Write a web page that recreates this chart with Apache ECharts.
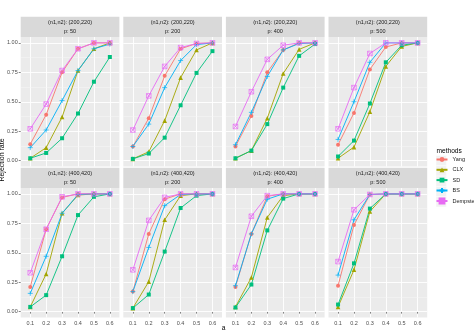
<!DOCTYPE html>
<html><head><meta charset="utf-8">
<script src="https://cdn.jsdelivr.net/npm/echarts@6/dist/echarts.min.js"></script>
<style>html,body{margin:0;padding:0;background:#fff}#c{width:474px;height:330px}</style>
</head><body><div id="c"></div>
<script>
// ---- data ----
const aValues = [0.1, 0.2, 0.3, 0.4, 0.5, 0.6];
const yTicks = [0, 0.25, 0.5, 0.75, 1];
const yMinorTicks = [0.125, 0.375, 0.625, 0.875];
const methods = ['Yang', 'CLX', 'SD', 'BS', 'Dempster'];
const sizeLabels = ['(n1,n2): (200,220)', '(n1,n2): (400,420)'];
const pLabels = ['p: 50', 'p: 200', 'p: 400', 'p: 500'];

// each array: one row per p (50, 200, 400, 500), values at a = 0.1..0.6
const Yang_200 = [
  [0.14, 0.39, 0.75, 0.95, 1.0, 1.0],
  [0.12, 0.36, 0.72, 0.95, 0.995, 1.0],
  [0.12, 0.38, 0.75, 0.94, 1.0, 1.0],
  [0.135, 0.405, 0.775, 0.965, 1.0, 1.0]];
const CLX_200 = [
  [0.02, 0.11, 0.37, 0.765, 0.95, 1.0],
  [0.015, 0.075, 0.34, 0.705, 0.94, 1.0],
  [0.02, 0.085, 0.36, 0.74, 0.945, 1.0],
  [0.02, 0.115, 0.415, 0.80, 0.97, 1.0]];
const SD_200 = [
  [0.02, 0.065, 0.19, 0.40, 0.67, 0.88],
  [0.015, 0.06, 0.195, 0.47, 0.745, 0.93],
  [0.02, 0.085, 0.31, 0.62, 0.89, 0.99],
  [0.035, 0.17, 0.485, 0.835, 0.98, 1.0]];
const BS_200 = [
  [0.11, 0.26, 0.51, 0.765, 0.95, 0.99],
  [0.12, 0.31, 0.62, 0.85, 0.985, 1.0],
  [0.135, 0.41, 0.715, 0.94, 0.995, 1.0],
  [0.18, 0.50, 0.835, 1.0, 1.0, 1.0]];
const Dempster_200 = [
  [0.27, 0.48, 0.765, 0.95, 1.0, 1.0],
  [0.26, 0.55, 0.80, 0.96, 0.995, 1.0],
  [0.29, 0.585, 0.86, 0.98, 1.0, 1.0],
  [0.27, 0.62, 0.91, 1.0, 1.0, 1.0]];

const Yang_400 = [
  [0.21, 0.70, 0.97, 1.0, 1.0, 1.0],
  [0.17, 0.66, 0.955, 1.0, 1.0, 1.0],
  [0.21, 0.66, 0.98, 1.0, 1.0, 1.0],
  [0.22, 0.735, 0.995, 1.0, 1.0, 1.0]];
const CLX_400 = [
  [0.04, 0.32, 0.835, 0.99, 1.0, 1.0],
  [0.03, 0.255, 0.78, 0.985, 1.0, 1.0],
  [0.04, 0.29, 0.80, 0.985, 1.0, 1.0],
  [0.04, 0.355, 0.85, 1.0, 1.0, 1.0]];
const SD_400 = [
  [0.04, 0.14, 0.47, 0.82, 0.975, 1.0],
  [0.03, 0.145, 0.51, 0.88, 0.985, 1.0],
  [0.035, 0.23, 0.69, 0.96, 1.0, 1.0],
  [0.06, 0.41, 0.875, 1.0, 1.0, 1.0]];
const BS_400 = [
  [0.155, 0.47, 0.835, 0.995, 1.0, 1.0],
  [0.17, 0.545, 0.90, 0.995, 1.0, 1.0],
  [0.22, 0.66, 0.955, 1.0, 1.0, 1.0],
  [0.31, 0.78, 0.995, 1.0, 1.0, 1.0]];
const Dempster_400 = [
  [0.33, 0.70, 0.975, 1.0, 1.0, 1.0],
  [0.355, 0.775, 0.97, 1.0, 1.0, 1.0],
  [0.375, 0.81, 0.985, 1.0, 1.0, 1.0],
  [0.425, 0.865, 0.995, 1.0, 1.0, 1.0]];

const rowsData = [
  { Yang: Yang_200, CLX: CLX_200, SD: SD_200, BS: BS_200, Dempster: Dempster_200 },
  { Yang: Yang_400, CLX: CLX_400, SD: SD_400, BS: BS_400, Dempster: Dempster_400 }];

// ---- styling ----
const FONT = '"Liberation Sans", Arial, sans-serif';
const colors = { Yang: '#F8766D', CLX: '#A3A500', SD: '#00BF7D', BS: '#00B0F6', Dempster: '#E76BF3' };
const symbols = {
  Yang: { symbol: 'circle', size: 4, hollow: false },
  CLX: { symbol: 'triangle', size: 4.6, hollow: false },
  SD: { symbol: 'rect', size: 4, hollow: false },
  BS: { symbol: 'path://M5,0V10M0,5H10', size: 5, hollow: true },
  Dempster: { symbol: 'path://M0,0H10V10H0ZM0,0L10,10M10,0L0,10', size: 4.6, hollow: true }
};

const L0 = 20.7, PW = 98.7, PSTEP = 102.6, PH = 129.5, SH = 20.3;
const TOPS = [37, 188];

const grids = [], xAxes = [], yAxes = [], series = [], graphics = [];
let gi = 0;
for (let r = 0; r < 2; r++) {
  for (let c = 0; c < 4; c++) {
    const left = L0 + c * PSTEP, top = TOPS[r];
    grids.push({ left: left, top: top, width: PW, height: PH, show: true,
      backgroundColor: '#EBEBEB', borderWidth: 0, containLabel: false });
    xAxes.push({
      type: 'value', gridIndex: gi, min: 0.04, max: 0.66,
      axisLine: { show: false },
      axisTick: { show: r === 1, length: 2, lineStyle: { color: '#333333', width: 0.6 }, customValues: aValues },
      axisLabel: { show: r === 1, customValues: aValues, margin: 3, fontSize: 5.5, color: '#4D4D4D', fontFamily: FONT,
        formatter: v => (+v).toFixed(1) },
      splitLine: { show: true, lineStyle: { color: '#FFFFFF', width: 0.9 } }
    });
    yAxes.push({
      type: 'value', gridIndex: gi, min: -0.05, max: 1.05, z: 2,
      axisLine: { show: false },
      axisTick: { show: c === 0, length: 2, lineStyle: { color: '#333333', width: 0.6 }, customValues: yTicks },
      axisLabel: { show: c === 0, customValues: yTicks, margin: 3, fontSize: 5.5, color: '#4D4D4D', fontFamily: FONT,
        formatter: v => (+v).toFixed(2) },
      splitLine: { show: true, lineStyle: { color: '#FFFFFF', width: 0.9 } }
    });
    yAxes.push({
      type: 'value', gridIndex: gi, min: -0.05, max: 1.05, z: 1,
      axisLine: { show: false },
      axisTick: { show: false, customValues: yMinorTicks },
      axisLabel: { show: false, customValues: yMinorTicks },
      splitLine: { show: true, lineStyle: { color: '#F7F7F7', width: 0.5 } }
    });
    // strip
    graphics.push({ type: 'rect', shape: { x: left, y: top - SH, width: PW, height: SH }, style: { fill: '#D9D9D9' }, silent: true });
    graphics.push({ type: 'text', x: left + PW / 2, y: top - SH + 5.3, style: { text: sizeLabels[r], fontSize: 5.5, fill: '#1A1A1A', fontFamily: FONT, align: 'center', verticalAlign: 'middle' }, silent: true });
    graphics.push({ type: 'text', x: left + PW / 2, y: top - SH + 15.2, style: { text: pLabels[c], fontSize: 5.5, fill: '#1A1A1A', fontFamily: FONT, align: 'center', verticalAlign: 'middle' }, silent: true });

    methods.forEach(m => {
      const vals = rowsData[r][m][c];
      const sy = symbols[m];
      series.push({
        type: 'line', name: m, xAxisIndex: gi, yAxisIndex: gi * 2,
        data: aValues.map((a, k) => [a, vals[k]]),
        symbol: sy.symbol, symbolSize: sy.size, showSymbol: true,
        lineStyle: { color: colors[m], width: 0.9 },
        itemStyle: sy.hollow ? { color: 'rgba(0,0,0,0)', borderColor: colors[m], borderWidth: 0.7 } : { color: colors[m], borderWidth: 0 },
        emphasis: { disabled: true }, silent: true, animation: false, z: 3
      });
    });
    gi++;
  }
}

// legend key backgrounds
const LEG_X = 436, LEG_Y0 = 155.5, LEG_STEP = 10.3;
methods.forEach((m, i) => {
  graphics.push({ type: 'rect', shape: { x: LEG_X, y: LEG_Y0 + i * LEG_STEP, width: 10.3, height: 10.3 }, style: { fill: '#F2F2F2', stroke: '#FFFFFF', lineWidth: 0.5 }, silent: true, z: -1 });
});
graphics.push({ type: 'text', x: 436.5, y: 151, style: { text: 'methods', fontSize: 6.6, fill: '#000000', fontFamily: FONT, verticalAlign: 'middle' }, silent: true });
graphics.push({ type: 'text', x: 2.5, y: 160, rotation: Math.PI / 2, style: { text: 'Rejection rate', fontSize: 7, fill: '#000000', fontFamily: FONT, align: 'center', verticalAlign: 'middle' }, silent: true });
graphics.push({ type: 'text', x: 223.7, y: 328.5, style: { text: 'a', fontSize: 6.6, fill: '#000000', fontFamily: FONT, align: 'center', verticalAlign: 'middle' }, silent: true });

const chart = echarts.init(document.getElementById('c'), null, { renderer: 'canvas' });
chart.setOption({
  animation: false,
  backgroundColor: '#FFFFFF',
  grid: grids, xAxis: xAxes, yAxis: yAxes, series: series,
  legend: {
    data: methods, orient: 'vertical', left: 435.5, top: 156.2,
    itemWidth: 11, itemHeight: 6, itemGap: 3.7, padding: 0,
    textStyle: { fontSize: 5.5, color: '#1A1A1A', fontFamily: FONT, lineHeight: 6.6 },
    selectedMode: false
  },
  graphic: graphics
});
</script></body></html>
